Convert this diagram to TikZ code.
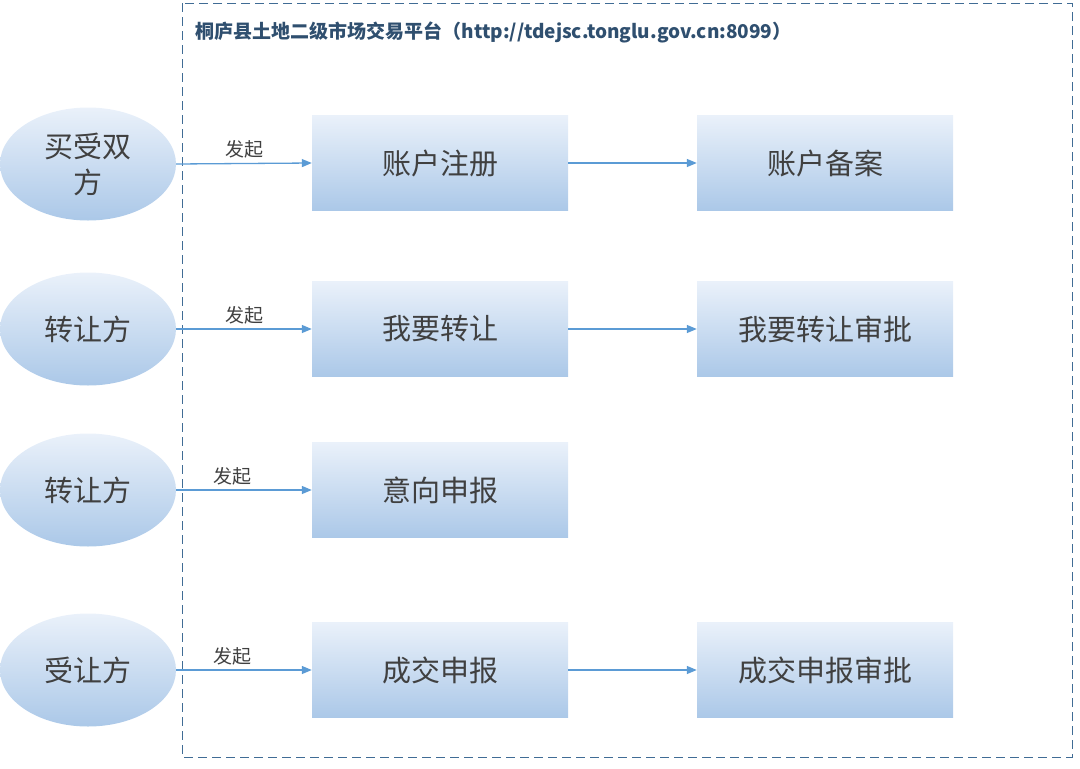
\documentclass[tikz,border=0pt]{standalone}
\usepackage{fontspec}
\setmainfont{Noto Sans CJK SC}
\usetikzlibrary{arrows.meta,shapes.geometric}
\definecolor{ln}{HTML}{5B9BD5}
\definecolor{tx}{HTML}{404040}
\definecolor{gtop}{HTML}{EAF1FA}
\definecolor{gbot}{HTML}{ABC8E8}
\definecolor{ttl}{HTML}{2F4F6F}
\begin{document}
\begin{tikzpicture}[x=1pt,y=-1pt,
  box/.style={rectangle,minimum width=256pt,minimum height=95pt,top color=gtop,bottom color=gbot,draw=none,text=tx,font=\fontsize{29}{32}\selectfont},
  ell/.style={ellipse,minimum width=176pt,minimum height=113pt,inner sep=0pt,top color=gtop,bottom color=gbot,draw=none,text=tx,font=\fontsize{29}{36}\selectfont,align=center},
  arr/.style={draw=ln,line width=1.3pt,-{Triangle[length=10pt,width=8pt]}},
  lab/.style={text=tx,font=\fontsize{19}{22}\selectfont}]
\useasboundingbox (0,0) rectangle (1080,769);
\draw[ln!70!black,dashed,dash pattern=on 9pt off 5pt,line width=1pt] (182,3) rectangle (1072,757);
\node[anchor=west,text=ttl,font=\bfseries\fontsize{19}{22}\selectfont] (title) at (192,32) {桐庐县土地二级市场交易平台（http://tdejsc.tonglu.gov.cn:8099）};
\node[ell] (e1) at (88,164) {买受双\\方};
\node[ell] (e2) at (88,329) {转让方};
\node[ell] (e3) at (88,490) {转让方};
\node[ell] (e4) at (88,670) {受让方};
\node[box] (b1) at (440,163) {账户注册};
\node[box] (c1) at (825,163) {账户备案};
\node[box] (b2) at (440,329) {我要转让};
\node[box] (c2) at (825,329) {我要转让审批};
\node[box] (b3) at (440,490) {意向申报};
\node[box] (b4) at (440,670) {成交申报};
\node[box] (c4) at (825,670) {成交申报审批};
\draw[arr] (e1.east) -- (b1.west) node[lab,midway,above=1pt] {发起};
\draw[arr] (e2.east) -- (b2.west) node[lab,midway,above=1pt] {发起};
\draw[arr] (e3.east) -- (b3.west) node[lab,midway,above=1pt,xshift=-12pt] {发起};
\draw[arr] (e4.east) -- (b4.west) node[lab,midway,above=1pt,xshift=-12pt] {发起};
\draw[arr] (b1) -- (c1);
\draw[arr] (b2) -- (c2);
\draw[arr] (b4) -- (c4);
\end{tikzpicture}
\end{document}
